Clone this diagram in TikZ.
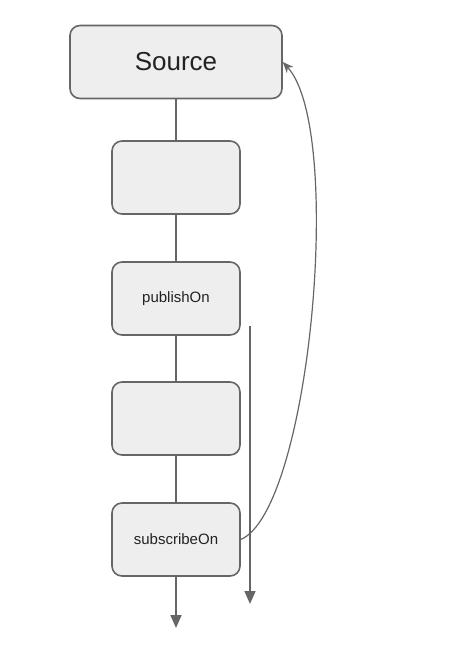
\documentclass[tikz,border=0pt]{standalone}
\usepackage{fontspec}
\setmainfont{Liberation Sans}
\usetikzlibrary{arrows.meta}
\definecolor{boxfill}{HTML}{EEEEEE}
\definecolor{boxline}{HTML}{666666}
\definecolor{txt}{HTML}{222222}
\begin{document}
\begin{tikzpicture}[x=1pt,y=-1pt,
  box/.style={draw=boxline, fill=boxfill, line width=1.6pt, rounded corners=10pt, minimum width=128pt, minimum height=73pt, inner sep=0pt, text=txt, font=\fontsize{15}{18}\selectfont},
  conn/.style={draw=boxline, line width=1.6pt},
  arr/.style={conn, -{Triangle[length=13pt,width=11pt]}},
  thin/.style={draw=boxline, line width=1.2pt, -{Stealth[length=11pt,width=9pt]}}]
\useasboundingbox (0,0) rectangle (474,651);
\node[box, minimum width=212pt, font=\fontsize{26}{30}\selectfont] (src) at (176,62) {\raisebox{-1.5pt}{Source}};
\node[box] (b1) at (176,177.5) {};
\node[box] (pub) at (176,298.5) {\raisebox{-1pt}{publishOn}};
\node[box] (b3) at (176,418.5) {};
\node[box] (sub) at (176,539.5) {\raisebox{-1pt}{subscribeOn}};
\coordinate (out) at (176,628);
\coordinate (vs) at (250,326);
\coordinate (ve) at (250,604);
\draw[conn] (src.south) -- (b1.north);
\draw[conn] (b1.south) -- (pub.north);
\draw[conn] (pub.south) -- (b3.north);
\draw[conn] (b3.south) -- (sub.north);
\draw[arr] (sub.south) -- (out);
\draw[arr] (vs) -- (ve);
\draw[thin] (sub.east) .. controls (310,510) and (345,130) .. (src.east);
\end{tikzpicture}
\end{document}
